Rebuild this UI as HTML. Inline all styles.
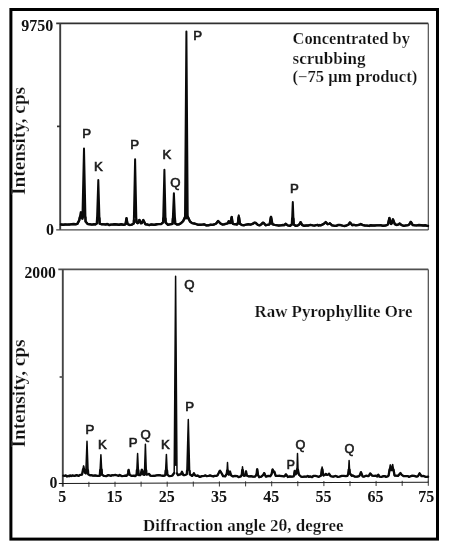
<!DOCTYPE html>
<html lang="en">
<head>
<meta charset="utf-8">
<title>XRD patterns of pyrophyllite ore</title>
<style>
html,body{margin:0;padding:0;background:#fff;}
body{width:449px;height:550px;overflow:hidden;position:relative;}
svg{position:absolute;left:0;top:0;display:block;}
.serif{font-family:'Liberation Serif', 'DejaVu Serif', serif;font-weight:bold;fill:#111;stroke:#fff;stroke-width:0.2;}
.num{stroke:none;}
.sans{font-family:'Liberation Sans', 'DejaVu Sans', sans-serif;font-weight:normal;fill:#1a1a1a;stroke:#1a1a1a;stroke-width:0.65;}
</style>
</head>
<body>
<svg width="449" height="550" viewBox="0 0 449 550">
<rect x="0" y="0" width="449" height="550" fill="#ffffff"/>
<!-- outer frame -->
<rect x="10.9" y="9.5" width="426.6" height="529.6" fill="none" stroke="#000" stroke-width="3"/>

<!-- top chart axes -->
<g fill="none" stroke="#303030" stroke-width="1.7">
<line x1="56.2" y1="23.4" x2="428.3" y2="23.4"/>
<line x1="60.2" y1="23.4" x2="60.2" y2="229.9" stroke-width="1.9" stroke="#3c3c3c"/>
<line x1="57.0" y1="126.4" x2="60.2" y2="126.4"/>
</g>
<g fill="none" stroke="#484848" stroke-width="1.3">
<line x1="56.2" y1="229.9" x2="428.3" y2="229.9"/>
<line x1="428.3" y1="23.4" x2="428.3" y2="229.9" stroke-width="1.15"/>
</g>
<polyline fill="none" stroke="#0a0a0a" stroke-width="2.0" stroke-linejoin="round" stroke-linecap="round" points="61.00,224.47 63.10,224.74 65.20,224.51 67.30,224.61 69.40,224.56 71.50,224.19 73.60,224.02 75.70,224.25 77.30,223.93 79.20,220.44 80.70,212.11 80.80,211.97 81.00,212.21 82.40,218.61 84.00,148.45 85.50,220.38 85.60,221.54 87.70,224.02 89.80,224.31 91.90,224.63 94.00,224.30 95.50,224.42 96.90,223.35 98.30,180.05 99.60,222.86 99.70,223.63 101.80,224.31 103.90,224.33 106.00,224.43 107.30,224.00 109.40,225.08 110.70,224.58 112.80,224.56 114.90,224.27 117.00,224.45 119.10,224.73 121.20,224.30 123.30,224.70 125.10,224.55 125.60,223.80 126.50,218.24 127.50,224.03 129.60,224.98 131.70,224.67 133.40,223.79 133.80,223.21 135.10,159.27 136.40,222.13 137.60,223.12 138.20,222.74 139.30,220.07 139.50,220.07 140.90,223.28 141.70,223.11 143.30,220.12 145.40,224.21 147.50,224.49 149.20,225.17 151.30,224.44 153.40,224.78 154.70,224.73 156.80,224.22 158.90,224.08 161.00,224.12 163.10,222.42 164.40,169.71 165.60,221.66 165.70,222.73 167.80,224.70 169.90,224.38 172.00,224.05 172.60,223.67 173.90,193.13 175.20,223.57 176.80,224.44 178.90,224.38 181.00,223.18 183.10,221.21 185.00,217.06 186.40,31.50 187.70,213.44 187.80,216.75 189.90,221.43 192.00,223.13 194.10,223.46 196.20,224.12 198.30,224.83 200.40,224.75 202.50,224.61 204.20,224.33 206.30,225.38 208.40,225.29 210.50,224.75 212.60,224.84 214.60,224.26 216.20,223.52 218.10,220.94 220.20,223.26 222.30,224.43 224.40,224.27 226.50,223.64 227.80,223.29 228.70,221.23 228.90,221.22 230.10,223.00 230.50,222.89 230.90,221.99 231.60,217.22 231.70,217.05 232.70,223.61 233.90,224.13 236.00,224.28 237.00,224.47 237.60,223.83 238.10,221.65 238.70,215.69 238.80,215.39 239.90,223.73 242.00,225.12 244.10,225.20 246.20,224.62 248.30,224.20 250.40,224.64 252.50,223.93 254.60,222.63 255.80,223.01 257.90,224.91 259.50,225.34 261.50,224.18 262.90,222.64 263.60,222.89 265.60,225.22 267.10,224.85 269.20,224.60 269.70,223.97 270.90,217.04 271.00,216.88 272.40,224.20 274.50,224.89 276.60,225.14 278.70,225.56 280.80,225.35 282.90,225.04 284.30,225.17 285.60,223.83 287.70,225.38 289.80,225.90 291.90,224.41 292.80,202.01 293.70,224.48 295.60,225.83 297.70,225.47 299.50,224.30 300.50,222.27 300.70,222.30 302.20,225.14 304.20,225.73 306.30,225.44 308.40,225.46 310.50,224.86 312.60,225.34 314.30,225.64 316.40,225.07 317.40,224.87 318.40,225.52 319.70,225.04 320.70,225.40 322.80,224.43 324.90,222.99 325.70,222.13 327.60,224.18 329.20,223.85 329.90,223.29 332.00,225.32 334.10,225.69 336.20,225.84 338.30,224.98 340.40,225.05 342.50,225.64 344.60,226.03 346.70,225.44 348.60,224.52 349.80,222.51 350.10,222.56 352.20,225.17 353.80,224.81 355.90,225.32 358.00,224.99 359.90,224.59 360.70,223.95 362.80,225.11 364.90,225.45 367.00,225.59 369.10,225.94 370.50,225.27 372.60,225.48 374.70,225.54 376.80,225.34 378.90,225.34 381.00,225.30 383.10,225.81 385.20,225.61 387.30,224.96 388.00,224.26 389.30,218.15 389.40,218.01 390.80,223.75 391.20,223.96 391.80,223.22 392.90,219.43 393.00,219.38 394.80,224.09 396.60,224.98 398.70,224.39 399.60,223.46 401.70,225.18 403.80,225.91 405.90,225.38 408.00,225.18 409.50,224.15 410.70,221.85 410.90,221.84 412.70,225.06 414.80,225.33 416.90,225.38 419.00,225.02 421.10,225.29 423.20,225.56 425.20,225.25 427.30,225.85 428.00,225.93"/>
<path fill="none" stroke="#0a0a0a" stroke-width="2.4" stroke-linejoin="round" stroke-linecap="round" d="M61.00,224.47 L63.10,224.74 L65.20,224.51 L67.30,224.61 L69.40,224.56 L71.50,224.19 L73.60,224.02 L75.70,224.25 L77.30,223.93 L79.20,220.44 L79.80,217.55 M81.90,217.03 L82.40,218.61 L82.50,217.79 M85.40,217.35 L85.60,221.54 L87.70,224.02 L89.80,224.31 L91.90,224.63 L94.00,224.30 L95.50,224.42 L96.90,223.35 L97.20,217.85 M99.40,218.21 L99.70,223.63 L101.80,224.31 L103.90,224.33 L106.00,224.43 L107.30,224.00 L109.40,225.08 L110.70,224.58 L112.80,224.56 L114.90,224.27 L117.00,224.45 L119.10,224.73 L121.20,224.30 L123.30,224.70 L125.10,224.55 L125.60,223.80 L126.50,218.24 L127.50,224.03 L129.60,224.98 L131.70,224.67 L133.40,223.79 L133.80,223.21 L133.90,220.54 M136.30,219.50 L136.40,222.13 L137.60,223.12 L138.20,222.74 L139.30,220.07 L139.50,220.07 L140.90,223.28 L141.70,223.11 L143.30,220.12 L145.40,224.21 L147.50,224.49 L149.20,225.17 L151.30,224.44 L153.40,224.78 L154.70,224.73 L156.80,224.22 L158.90,224.08 L161.00,224.12 L163.10,222.42 L163.30,218.53 M165.50,218.80 L165.70,222.73 L167.80,224.70 L169.90,224.38 L172.00,224.05 L172.60,223.67 L172.90,218.64 M174.90,218.56 L175.20,223.57 L176.80,224.44 L178.90,224.38 L181.00,223.18 L183.10,221.21 L185.00,217.06 M187.90,217.10 L190.00,221.56 L192.10,223.17 L194.20,223.47 L196.30,224.17 L198.40,224.82 L200.50,224.75 L202.60,224.60 L204.20,224.33 L206.30,225.38 L208.40,225.29 L210.50,224.75 L212.60,224.84 L214.60,224.26 L216.20,223.52 L218.10,220.94 L220.20,223.26 L222.30,224.43 L224.40,224.27 L226.50,223.64 L227.80,223.29 L228.70,221.23 L228.90,221.22 L230.10,223.00 L230.50,222.89 L230.90,221.99 L231.60,217.22 L231.70,217.05 L232.70,223.61 L233.90,224.13 L236.00,224.28 L237.00,224.47 L237.60,223.83 L238.10,221.65 L238.50,217.57 M239.10,217.60 L239.90,223.73 L242.00,225.12 L244.10,225.20 L246.20,224.62 L248.30,224.20 L250.40,224.64 L252.50,223.93 L254.60,222.63 L255.80,223.01 L257.90,224.91 L259.50,225.34 L261.50,224.18 L262.90,222.64 L263.60,222.89 L265.60,225.22 L267.10,224.85 L269.20,224.60 L269.70,223.97 L270.90,217.04 M271.10,217.05 L272.40,224.20 L274.50,224.89 L276.60,225.14 L278.70,225.56 L280.80,225.35 L282.90,225.04 L284.30,225.17 L285.60,223.83 L287.70,225.38 L289.80,225.90 L291.90,224.41 L292.20,218.64 M293.40,218.72 L293.70,224.48 L295.60,225.83 L297.70,225.47 L299.50,224.30 L300.50,222.27 L300.70,222.30 L302.20,225.14 L304.20,225.73 L306.30,225.44 L308.40,225.46 L310.50,224.86 L312.60,225.34 L314.30,225.64 L316.40,225.07 L317.40,224.87 L318.40,225.52 L319.70,225.04 L320.70,225.40 L322.80,224.43 L324.90,222.99 L325.70,222.13 L327.60,224.18 L329.20,223.85 L329.90,223.29 L332.00,225.32 L334.10,225.69 L336.20,225.84 L338.30,224.98 L340.40,225.05 L342.50,225.64 L344.60,226.03 L346.70,225.44 L348.60,224.52 L349.80,222.51 L350.10,222.56 L352.20,225.17 L353.80,224.81 L355.90,225.32 L358.00,224.99 L359.90,224.59 L360.70,223.95 L362.80,225.11 L364.90,225.45 L367.00,225.59 L369.10,225.94 L370.50,225.27 L372.60,225.48 L374.70,225.54 L376.80,225.34 L378.90,225.34 L381.00,225.30 L383.10,225.81 L385.20,225.61 L387.30,224.96 L388.00,224.26 L389.30,218.15 L389.40,218.01 L390.80,223.75 L391.20,223.96 L391.80,223.22 L392.90,219.43 L393.00,219.38 L394.80,224.09 L396.60,224.98 L398.70,224.39 L399.60,223.46 L401.70,225.18 L403.80,225.91 L405.90,225.38 L408.00,225.18 L409.50,224.15 L410.70,221.85 L410.90,221.84 L412.70,225.06 L414.80,225.33 L416.90,225.38 L419.00,225.02 L421.10,225.29 L423.20,225.56 L425.20,225.25 L427.30,225.85 L428.00,225.93"/>
<path fill="#0a0a0a" stroke="none" d="M79.50,219.25 L80.70,212.11 L80.80,211.97 L81.00,212.21 L82.40,218.61 L84.00,148.45 L85.40,217.35Z M97.20,217.85 L98.30,180.05 L99.40,218.21Z M126.30,219.14 L126.50,218.24 L126.70,219.16Z M134.00,216.92 L135.10,159.27 L136.30,219.50Z M163.30,218.53 L164.40,169.71 L165.50,218.80Z M172.90,218.64 L173.90,193.13 L174.90,218.56Z M184.20,219.47 L185.00,217.06 L186.40,31.50 L187.70,213.44 L187.80,216.75 L188.60,219.31Z M231.40,218.64 L231.60,217.22 L231.70,217.05 L232.00,219.13Z M238.40,218.74 L238.70,215.69 L238.80,215.39 L239.20,218.78Z M270.60,218.95 L270.90,217.04 L271.00,216.88 L271.40,218.97Z M292.20,218.64 L292.80,202.01 L293.40,218.72Z M389.10,219.09 L389.40,218.01 L389.70,218.98Z M392.90,219.43 L393.00,219.38 L393.10,219.47Z"/>

<!-- bottom chart axes -->
<g fill="none" stroke="#505050" stroke-width="1.7">
<line x1="58.3" y1="269.4" x2="428.3" y2="269.4"/>
<line x1="62.8" y1="269.4" x2="62.8" y2="486.7" stroke-width="1.9" stroke="#444"/>
<line x1="59.599999999999994" y1="377" x2="62.8" y2="377"/>
</g>
<g fill="none" stroke="#1a1a1a" stroke-width="1.15">
<line x1="58.8" y1="483.45" x2="428.3" y2="482.2"/>
</g>
<g fill="none" stroke="#222" stroke-width="0.9">
<line x1="88.9" y1="481.8" x2="88.9" y2="486.9"/><line x1="115.0" y1="481.7" x2="115.0" y2="486.8"/><line x1="141.1" y1="481.6" x2="141.1" y2="486.7"/><line x1="167.2" y1="481.6" x2="167.2" y2="486.7"/><line x1="193.3" y1="481.5" x2="193.3" y2="486.6"/><line x1="219.4" y1="481.4" x2="219.4" y2="486.5"/><line x1="245.6" y1="481.3" x2="245.6" y2="486.4"/><line x1="271.7" y1="481.2" x2="271.7" y2="486.3"/><line x1="297.8" y1="481.1" x2="297.8" y2="486.2"/><line x1="323.9" y1="481.0" x2="323.9" y2="486.1"/><line x1="350.0" y1="481.0" x2="350.0" y2="486.1"/><line x1="376.1" y1="480.9" x2="376.1" y2="486.0"/><line x1="402.2" y1="480.8" x2="402.2" y2="485.9"/><line x1="428.3" y1="480.7" x2="428.3" y2="485.8"/>
</g>
<g fill="none" stroke="#484848" stroke-width="1.2">
<line x1="428.3" y1="269.4" x2="428.3" y2="482.9"/>
</g>
<polyline fill="none" stroke="#0a0a0a" stroke-width="1.5" stroke-linejoin="round" stroke-linecap="round" points="63.50,475.72 64.90,475.84 65.70,475.39 66.90,476.47 68.00,475.92 69.00,476.22 70.10,475.43 71.20,476.07 72.40,475.42 74.50,475.92 76.60,475.21 78.70,475.87 80.10,474.86 81.80,474.65 82.30,473.66 83.50,466.04 83.60,465.84 83.80,466.25 85.00,472.62 85.80,473.40 87.00,441.35 88.20,474.21 90.00,475.36 91.00,475.14 93.10,475.67 95.20,475.49 97.30,475.84 99.40,475.75 99.80,475.65 100.90,454.73 101.90,474.21 102.00,474.70 104.10,475.97 106.20,476.09 108.30,475.17 110.40,475.64 111.00,475.80 112.00,475.21 113.20,475.31 115.30,474.91 117.40,475.50 118.60,475.83 119.60,474.97 121.70,476.04 123.80,475.86 125.40,475.51 126.40,475.82 127.60,474.82 128.10,472.95 128.50,470.14 128.60,469.90 129.60,474.78 131.70,475.97 133.80,475.65 135.10,476.03 136.60,474.96 137.60,453.56 138.60,475.02 140.30,475.09 140.80,474.27 141.80,469.81 141.90,469.75 143.10,474.46 144.40,474.76 145.40,444.34 146.40,474.53 148.50,474.17 149.10,473.93 150.40,475.72 152.50,475.94 154.60,475.76 156.70,475.36 158.80,475.05 160.90,475.48 163.00,475.74 164.80,475.59 165.40,474.78 166.40,454.39 167.30,474.13 167.40,474.75 169.20,476.07 171.30,475.88 172.40,475.47 174.20,473.01 175.60,276.28 177.00,473.46 178.00,475.09 180.10,474.41 180.90,474.35 182.00,471.81 183.30,475.01 184.90,475.07 186.80,474.23 188.30,419.61 189.70,473.40 189.80,474.27 191.90,475.74 192.30,475.77 193.90,473.31 195.00,475.32 196.80,475.96 197.70,475.52 199.80,476.92 201.90,476.19 204.00,475.80 205.50,475.38 206.50,476.07 208.60,475.86 210.00,475.46 212.10,476.04 213.30,476.47 214.50,475.92 216.60,475.82 217.60,475.25 219.70,470.90 220.10,470.72 222.20,474.37 223.10,476.10 225.20,476.35 226.70,473.86 227.00,472.03 227.50,462.46 228.10,472.97 228.70,474.57 229.00,474.61 229.40,473.85 229.90,471.69 230.00,471.59 231.00,475.23 233.00,476.46 235.10,475.89 237.20,476.03 238.60,477.13 240.70,476.47 241.50,475.54 241.90,473.77 242.50,466.76 243.30,474.88 244.00,475.84 245.10,475.43 245.50,474.33 246.00,471.29 246.80,475.45 248.90,476.46 251.00,476.15 253.10,476.65 255.10,476.59 256.30,475.09 256.70,473.32 257.20,468.96 258.10,475.33 259.20,477.22 261.30,476.62 263.30,474.90 264.10,473.08 264.30,473.10 265.80,476.60 266.30,476.62 268.20,475.89 270.30,476.24 271.50,474.38 272.50,469.62 272.60,469.47 272.80,469.77 273.50,472.15 273.70,472.21 274.20,471.55 274.40,471.80 275.70,475.86 277.80,475.95 279.90,475.76 282.00,476.13 284.10,476.46 284.80,476.09 285.80,474.30 286.00,474.29 287.80,476.98 289.90,476.44 292.00,476.70 293.50,476.38 294.00,475.37 294.70,470.99 295.40,474.22 295.60,474.36 296.30,473.42 296.80,471.50 297.10,467.18 297.50,453.55 298.10,471.38 299.10,474.99 301.20,476.66 302.50,476.82 304.60,476.49 306.70,476.63 307.70,475.92 308.90,476.87 310.00,476.40 312.10,477.19 313.50,475.86 315.50,475.80 317.60,476.49 318.80,476.86 320.80,475.77 321.20,474.74 322.10,466.92 323.10,474.88 323.50,475.46 324.80,474.98 325.80,473.87 327.00,474.90 328.20,474.64 329.00,473.66 330.60,476.20 332.70,476.62 333.30,476.71 335.40,475.99 336.70,476.28 337.50,476.90 339.60,476.53 341.70,475.90 343.80,475.94 345.90,476.22 347.30,475.98 348.20,473.99 348.60,471.22 349.10,460.47 349.70,472.38 351.50,475.70 352.80,475.41 354.90,476.64 357.00,476.69 359.10,476.16 360.10,474.63 360.90,472.23 361.00,472.20 362.60,476.42 363.90,476.67 366.00,475.68 368.10,476.18 369.10,475.55 370.10,473.49 370.30,473.49 372.00,475.57 374.10,475.94 376.00,475.65 377.00,476.44 378.30,474.67 379.40,476.59 381.50,476.87 383.60,476.04 385.00,476.25 385.90,476.94 388.00,476.25 388.60,475.46 390.20,465.07 390.30,464.87 390.40,464.90 391.40,469.51 391.50,469.57 391.90,468.36 392.60,464.61 392.70,464.54 394.50,475.26 394.90,475.72 395.90,475.65 398.00,475.86 400.10,473.55 400.50,473.09 401.70,474.86 403.80,476.20 405.90,476.05 407.90,476.09 408.90,476.95 411.00,476.05 412.20,475.68 414.30,475.80 416.40,476.55 417.90,476.27 419.60,473.31 421.50,476.21 423.60,476.01 425.70,476.91 426.90,476.89 428.10,476.65"/>
<path fill="none" stroke="#0a0a0a" stroke-width="2.3" stroke-linejoin="round" stroke-linecap="round" d="M63.50,475.72 L64.90,475.84 L65.70,475.39 L66.90,476.47 L68.00,475.92 L69.00,476.22 L70.10,475.43 L71.20,476.07 L72.40,475.42 L74.50,475.92 L76.60,475.21 L78.70,475.87 L80.10,474.86 L81.80,474.65 L82.30,473.66 L83.00,469.50 M84.30,469.58 L85.10,472.80 L85.80,473.40 L86.00,470.12 M88.00,470.45 L88.20,474.21 L90.00,475.36 L91.00,475.14 L93.10,475.67 L95.20,475.49 L97.30,475.84 L99.40,475.75 L99.80,475.65 L100.20,470.16 M101.60,469.53 L101.90,474.21 L102.00,474.70 L104.10,475.97 L106.20,476.09 L108.30,475.17 L110.40,475.64 L111.00,475.80 L112.00,475.21 L113.20,475.31 L115.30,474.91 L117.40,475.50 L118.60,475.83 L119.60,474.97 L121.70,476.04 L123.80,475.86 L125.40,475.51 L126.40,475.82 L127.60,474.82 L128.10,472.95 L128.50,470.14 L128.60,469.90 L129.60,474.78 L131.70,475.97 L133.80,475.65 L135.10,476.03 L136.60,474.96 L136.90,470.08 M138.30,470.26 L138.60,475.02 L140.30,475.09 L140.80,474.27 L141.80,469.81 L141.90,469.75 L143.10,474.46 L144.40,474.76 L144.60,470.71 M146.20,470.42 L146.40,474.53 L148.50,474.17 L149.10,473.93 L150.40,475.72 L152.50,475.94 L154.60,475.76 L156.70,475.36 L158.80,475.05 L160.90,475.48 L163.00,475.74 L164.80,475.59 L165.40,474.78 L165.70,470.64 M167.10,470.70 L167.40,474.75 L169.20,476.07 L171.30,475.88 L172.40,475.47 L174.20,473.01 M177.00,473.46 L178.00,475.09 L180.10,474.41 L180.90,474.35 L182.00,471.81 L183.30,475.01 L184.90,475.07 L186.80,474.23 L187.00,470.84 M189.60,470.99 L189.80,474.27 L191.90,475.74 L192.30,475.77 L193.90,473.31 L195.00,475.32 L196.80,475.96 L197.70,475.52 L199.80,476.92 L201.90,476.19 L204.00,475.80 L205.50,475.38 L206.50,476.07 L208.60,475.86 L210.00,475.46 L212.10,476.04 L213.30,476.47 L214.50,475.92 L216.60,475.82 L217.60,475.25 L219.70,470.90 L220.10,470.72 L222.20,474.37 L223.10,476.10 L225.20,476.35 L226.70,473.86 L227.00,472.03 L227.10,470.59 M227.90,470.60 L228.30,473.90 L228.80,474.63 L229.10,474.52 L229.90,471.69 L230.00,471.59 L231.00,475.23 L233.00,476.46 L235.10,475.89 L237.20,476.03 L238.60,477.13 L240.70,476.47 L241.50,475.54 L241.90,473.77 L242.20,470.19 M242.80,470.24 L243.30,474.88 L244.00,475.84 L245.10,475.43 L245.50,474.33 L246.00,471.29 L246.80,475.45 L248.90,476.46 L251.00,476.15 L253.10,476.65 L255.10,476.59 L256.30,475.09 L256.70,473.32 L257.10,469.34 M257.30,469.36 L258.00,475.04 L259.20,477.22 L261.30,476.62 L263.30,474.90 L264.10,473.08 L264.30,473.10 L265.80,476.60 L266.30,476.62 L268.20,475.89 L270.30,476.24 L271.50,474.38 L272.50,469.62 L272.60,469.47 L272.80,469.77 L273.50,472.15 L273.70,472.21 L274.20,471.55 L274.40,471.80 L275.70,475.86 L277.80,475.95 L279.90,475.76 L282.00,476.13 L284.10,476.46 L284.80,476.09 L285.80,474.30 L286.00,474.29 L287.80,476.98 L289.90,476.44 L292.00,476.70 L293.50,476.38 L294.00,475.37 L294.70,470.99 L295.40,474.22 L295.60,474.36 L296.30,473.42 L296.80,471.50 L297.00,469.34 M298.00,469.96 L298.80,474.49 L300.90,476.55 L302.40,476.87 L304.50,476.53 L306.60,476.65 L307.70,475.92 L308.90,476.87 L310.00,476.40 L312.10,477.19 L313.50,475.86 L315.50,475.80 L317.60,476.49 L318.80,476.86 L320.80,475.77 L321.20,474.74 L321.80,469.38 M322.40,469.33 L323.10,474.88 L323.50,475.46 L324.80,474.98 L325.80,473.87 L327.00,474.90 L328.20,474.64 L329.00,473.66 L330.60,476.20 L332.70,476.62 L333.30,476.71 L335.40,475.99 L336.70,476.28 L337.50,476.90 L339.60,476.53 L341.70,475.90 L343.80,475.94 L345.90,476.22 L347.30,475.98 L348.20,473.99 L348.60,471.22 L348.70,469.55 M349.50,469.65 L349.90,473.51 L351.70,475.79 L352.80,475.41 L354.90,476.64 L357.00,476.69 L359.10,476.16 L360.10,474.63 L360.90,472.23 L361.00,472.20 L362.60,476.42 L363.90,476.67 L366.00,475.68 L368.10,476.18 L369.10,475.55 L370.10,473.49 L370.30,473.49 L372.00,475.57 L374.10,475.94 L376.00,475.65 L377.00,476.44 L378.30,474.67 L379.40,476.59 L381.50,476.87 L383.60,476.04 L385.00,476.25 L385.90,476.94 L388.00,476.25 L388.60,475.46 L389.60,469.47 M391.30,469.30 L391.50,469.57 L391.70,469.23 M393.50,469.55 L394.50,475.26 L394.90,475.72 L395.90,475.65 L398.00,475.86 L400.10,473.55 L400.50,473.09 L401.70,474.86 L403.80,476.20 L405.90,476.05 L407.90,476.09 L408.90,476.95 L411.00,476.05 L412.20,475.68 L414.30,475.80 L416.40,476.55 L417.90,476.27 L419.60,473.31 L421.50,476.21 L423.60,476.01 L425.70,476.91 L426.90,476.89 L428.10,476.65"/>
<path fill="#0a0a0a" stroke="none" d="M82.80,471.04 L83.50,466.04 L83.60,465.84 L83.80,466.25 L84.60,471.32Z M86.00,470.12 L87.00,441.35 L88.00,470.45Z M100.20,470.16 L100.90,454.73 L101.70,471.29Z M128.30,471.49 L128.60,469.90 L128.90,471.36Z M136.90,470.08 L137.60,453.56 L138.30,470.26Z M141.50,470.99 L141.80,469.81 L141.90,469.75 L142.30,471.33Z M144.60,470.71 L145.40,444.34 L146.20,470.42Z M165.70,470.64 L166.40,454.39 L167.10,470.70Z M174.30,465.67 L175.60,276.28 L176.90,466.03Z M187.00,470.84 L188.30,419.61 L189.60,470.99Z M219.40,471.40 L220.00,470.71 L220.70,471.48Z M227.10,470.59 L227.50,462.46 L227.90,470.60Z M242.20,470.19 L242.50,466.76 L242.80,470.24Z M256.90,471.41 L257.20,468.96 L257.50,471.47Z M272.20,471.04 L272.50,469.62 L272.60,469.47 L272.80,469.77 L273.20,471.41Z M294.60,471.33 L294.70,470.99 L294.80,471.20Z M296.80,471.50 L297.10,467.18 L297.50,453.55 L298.10,471.38Z M321.70,470.63 L322.00,467.27 L322.10,466.92 L322.50,470.56Z M348.60,471.22 L349.10,460.47 L349.60,471.30Z M389.40,471.23 L390.20,465.07 L390.30,464.87 L390.40,464.90 L391.40,469.51 L391.50,469.57 L391.90,468.36 L392.60,464.61 L392.70,464.54 L393.70,471.19Z"/>

<!-- peak labels -->
<g class="sans">
<text x="86.6" y="138.4" text-anchor="middle" font-size="13.2">P</text><text x="98.3" y="170.5" text-anchor="middle" font-size="13.2">K</text><text x="134.6" y="149.1" text-anchor="middle" font-size="13.2">P</text><text x="167.0" y="159.0" text-anchor="middle" font-size="13.2">K</text><text x="175.3" y="186.6" text-anchor="middle" font-size="13.2">Q</text><text x="197.7" y="39.8" text-anchor="middle" font-size="13.2">P</text><text x="294.3" y="192.5" text-anchor="middle" font-size="13.2">P</text>
<text x="89.8" y="434.3" text-anchor="middle" font-size="13.2">P</text><text x="102.4" y="448.9" text-anchor="middle" font-size="13.2">K</text><text x="133.1" y="446.8" text-anchor="middle" font-size="13.2">P</text><text x="145.6" y="439.3" text-anchor="middle" font-size="13.2">Q</text><text x="165.3" y="448.6" text-anchor="middle" font-size="13.2">K</text><text x="189.3" y="289.4" text-anchor="middle" font-size="13.2">Q</text><text x="189.6" y="410.8" text-anchor="middle" font-size="13.2">P</text><text x="290.7" y="469.3" text-anchor="middle" font-size="12.2">P</text><text x="300.3" y="448.7" text-anchor="middle" font-size="12.6">Q</text><text x="349.5" y="452.9" text-anchor="middle" font-size="12.6">Q</text>
</g>

<!-- axis numbers -->
<g class="serif num">
<text x="53.3" y="31" text-anchor="end" font-size="17" textLength="32" lengthAdjust="spacingAndGlyphs">9750</text>
<text x="53.9" y="234.5" text-anchor="end" font-size="16">0</text>
<text x="55.9" y="277.9" text-anchor="end" font-size="17.5" textLength="31.4" lengthAdjust="spacingAndGlyphs">2000</text>
<text x="57.5" y="487.6" text-anchor="end" font-size="15.8">0</text>
</g>
<g class="serif num" font-size="17.2">
<text x="58.3" y="502" textLength="8" lengthAdjust="spacingAndGlyphs">5</text><text x="106.5" y="502" textLength="16" lengthAdjust="spacingAndGlyphs">15</text><text x="158.7" y="502" textLength="16" lengthAdjust="spacingAndGlyphs">25</text><text x="210.9" y="502" textLength="16" lengthAdjust="spacingAndGlyphs">35</text><text x="263.2" y="502" textLength="16" lengthAdjust="spacingAndGlyphs">45</text><text x="315.4" y="502" textLength="16" lengthAdjust="spacingAndGlyphs">55</text><text x="367.6" y="502" textLength="16" lengthAdjust="spacingAndGlyphs">65</text>
<text x="418.2" y="502" textLength="16" lengthAdjust="spacingAndGlyphs">75</text>
</g>

<!-- axis titles -->
<g class="serif" font-size="18">
<text transform="translate(24.5 194.9) rotate(-90)" textLength="108" lengthAdjust="spacingAndGlyphs">Intensity, cps</text>
<text transform="translate(25.2 447.5) rotate(-90)" textLength="108" lengthAdjust="spacingAndGlyphs">Intensity, cps</text>
</g>
<g class="serif" font-size="16.5">
<text x="143" y="530.8" textLength="200.5" lengthAdjust="spacingAndGlyphs">Diffraction angle 2θ, degree</text>
</g>

<!-- annotations -->
<g class="serif" font-size="16">
<text x="292.5" y="44.3" textLength="117.5" lengthAdjust="spacingAndGlyphs">Concentrated by</text>
<text x="292.5" y="63.9" textLength="73" lengthAdjust="spacingAndGlyphs">scrubbing</text>
<text x="292.5" y="81.7" textLength="124.7" lengthAdjust="spacingAndGlyphs">(−75 μm product)</text>
</g>
<g class="serif" font-size="16.5">
<text x="254.5" y="316.5" textLength="158" lengthAdjust="spacingAndGlyphs">Raw Pyrophyllite Ore</text>
</g>
</svg>
</body>
</html>
